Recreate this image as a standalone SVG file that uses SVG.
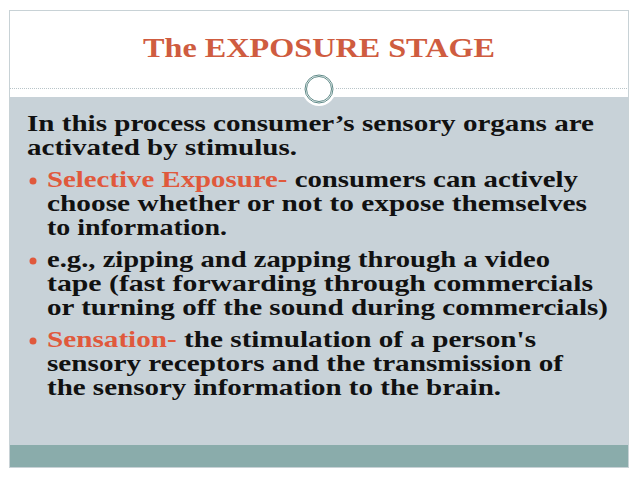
<svg xmlns="http://www.w3.org/2000/svg" width="638" height="478" viewBox="0 0 638 478">
<style>
.t{font-family:"Liberation Serif","DejaVu Serif",serif;font-weight:bold;font-size:23.5px;fill:#111}
.r{fill:#e0593c}
.b{fill:#e0593c}
</style>
<rect width="638" height="478" fill="#fff"/>
<rect x="9.5" y="10.5" width="619" height="457" fill="#fff" stroke="#c8d2d6"/>
<rect x="10" y="97" width="618" height="348" fill="#c8d2d8"/>
<rect x="10" y="445" width="618" height="22" fill="#8aacab"/>
<line x1="10" y1="88.5" x2="628" y2="88.5" stroke="#b8c4c8" stroke-dasharray="1 1"/>
<circle cx="319" cy="89" r="17" fill="#fff"/>
<circle cx="319" cy="89" r="14" fill="#fff" stroke="#5f8a88" stroke-width="1"/>
<circle cx="319" cy="89" r="12.5" fill="none" stroke="#5f8a88" stroke-width="1"/>
<text x="319" y="57" text-anchor="middle" style="font-family:'Liberation Serif',serif;font-weight:bold;font-size:28px;fill:#cf5c40" textLength="352" lengthAdjust="spacingAndGlyphs">The EXPOSURE STAGE</text>
<circle class="b" cx="33" cy="181" r="3.5"/>
<circle class="b" cx="33" cy="261" r="3.5"/>
<circle class="b" cx="33" cy="341" r="3.5"/>
<g class="t">
<text x="27" y="131" textLength="567" lengthAdjust="spacingAndGlyphs">In this process consumer’s sensory organs are</text>
<text x="27" y="155" textLength="270" lengthAdjust="spacingAndGlyphs">activated by stimulus.</text>
<text x="47" y="187" textLength="531" lengthAdjust="spacingAndGlyphs"><tspan class="r">Selective Exposure-</tspan> consumers can actively</text>
<text x="47" y="211" textLength="540" lengthAdjust="spacingAndGlyphs">choose whether or not to expose themselves</text>
<text x="47" y="235" textLength="180" lengthAdjust="spacingAndGlyphs">to information.</text>
<text x="47" y="267" textLength="503" lengthAdjust="spacingAndGlyphs">e.g., zipping and zapping through a video</text>
<text x="47" y="291" textLength="546" lengthAdjust="spacingAndGlyphs">tape (fast forwarding through commercials</text>
<text x="47" y="315" textLength="561" lengthAdjust="spacingAndGlyphs">or turning off the sound during commercials)</text>
<text x="47" y="347" textLength="489" lengthAdjust="spacingAndGlyphs"><tspan class="r">Sensation-</tspan> the stimulation of a person's</text>
<text x="47" y="371" textLength="516" lengthAdjust="spacingAndGlyphs">sensory receptors and the transmission of</text>
<text x="47" y="395" textLength="454" lengthAdjust="spacingAndGlyphs">the sensory information to the brain.</text>
</g>
</svg>
